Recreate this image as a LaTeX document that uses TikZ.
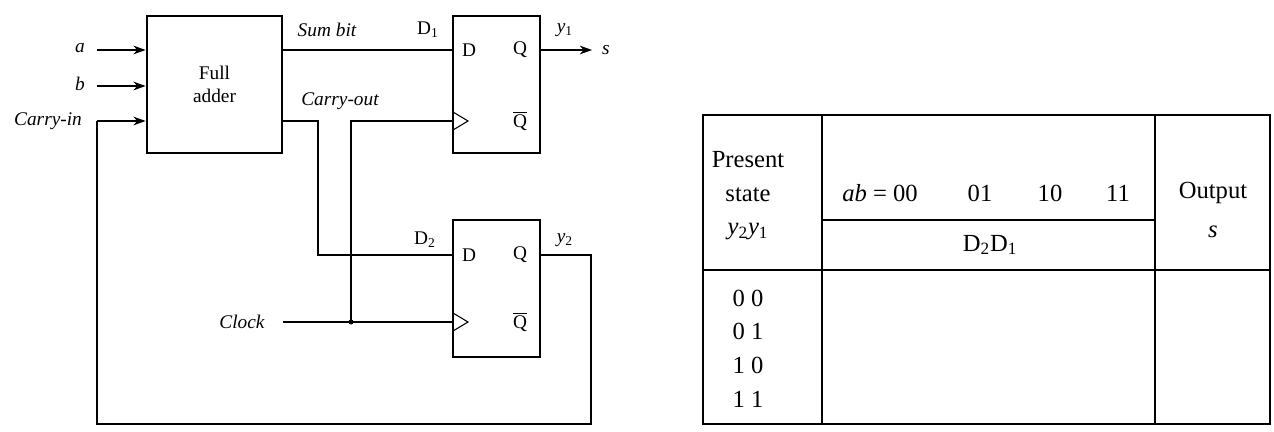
\documentclass[tikz,border=0pt]{standalone}
\usepackage{fontspec}
\setmainfont{Liberation Serif}
\usetikzlibrary{arrows.meta}
\begin{document}
\begin{tikzpicture}[x=0.02cm,y=-0.02cm,
  blk/.style={draw,line width=1.6pt,inner sep=0pt},
  wire/.style={draw,line width=0.6pt},
  arr/.style={wire,-{Stealth[length=7pt,width=5pt]}},
  lbl/.style={font=\fontsize{11}{13}\selectfont},
  il/.style={font=\itshape\fontsize{11}{13}\selectfont},
  tl/.style={font=\fontsize{14}{16}\selectfont}]
\useasboundingbox (0,0) rectangle (1274,432);
% full adder
\node[blk,minimum width=135*0.02cm,minimum height=137*0.02cm,align=center,lbl] (fa) at (214.5,84.5) {Full\\adder};
\node[blk,minimum width=87*0.02cm,minimum height=137*0.02cm] (ff1) at (496.5,84.5) {};
\node[blk,minimum width=87*0.02cm,minimum height=137*0.02cm] (ff2) at (496.5,288.5) {};
% FF labels
\node[lbl] at (469,50) {D}; \node[lbl] at (520,50) {Q}; \node[lbl] at (520,121) {$\overline{\mbox{Q}}$};
\node[lbl] at (469,255) {D}; \node[lbl] at (520,255) {Q}; \node[lbl] at (520,322) {$\overline{\mbox{Q}}$};
\draw[line width=0.6pt] (453,112) -- (468,121) -- (453,130);
\draw[line width=0.6pt] (453,313) -- (468,322) -- (453,331);
% inputs
\coordinate (ia) at (97,50); \coordinate (ib) at (97,86); \coordinate (ic) at (97,121);
\node[il] at (80,48) {a};
\node[il] at (80,84) {b};
\node[il] at (48,121) {Carry-in};
\draw[arr] (ia) -- (ia -| fa.west);
\draw[arr] (ib) -- (ib -| fa.west);
\draw[arr] (ic) -- (ic -| fa.west);
% sum bit
\coordinate (sb) at (282,50);
\draw[wire] (sb) -- (sb -| ff1.west);
\node[il] at (327,30) {Sum bit};
\node[lbl] at (428,30) {D\textsubscript{1}};
% output y1
\coordinate (q1) at (540,50); \coordinate (so) at (592,50);
\draw[arr] (q1) -- (so);
\node[lbl] at (565,30) {\textit{y}\textsubscript{1}};
\node[il] at (606,50) {s};
% carry out
\coordinate (co) at (282,121); \coordinate (c1) at (318,121); \coordinate (c2) at (318,255);
\draw[wire] (co) -- (c1) -- (c2) -- (c2 -| ff2.west);
\node[il] at (340,101) {Carry-out};
\node[lbl] at (425,240) {D\textsubscript{2}};
\node[lbl] at (565,240) {\textit{y}\textsubscript{2}};
% clock
\node[il] (clk) at (242,322) {Clock};
\coordinate (cj) at (351,322); \coordinate (ct) at (351,121);
\draw[wire] (283,322) -- (cj) -- (cj -| ff2.west);
\fill (cj) circle (2.5);
\draw[wire] (cj) -- (ct) -- (ct -| ff1.west);
% feedback
\coordinate (q2) at (540,255); \coordinate (f1) at (591,255); \coordinate (f2) at (591,424); \coordinate (f3) at (97,424);
\draw[wire] (q2) -- (f1) -- (f2) -- (f3) -- (ic);
% table
\draw[line width=0.6pt] (703,115) rectangle (1270,424);
\draw[line width=0.6pt] (822,115) -- (822,424) (1155,115) -- (1155,424) (703,270) -- (1270,270) (822,220) -- (1155,220);
\node[tl] at (748,160) {Present};
\node[tl] at (748,195) {state};
\node[tl] at (748,232) {\textit{y}\textsubscript{2}\textit{y}\textsubscript{1}};
\node[tl] at (880,193) {\textit{ab} = 00};
\node[tl] at (980,193) {01};
\node[tl] at (1050,193) {10};
\node[tl] at (1118,193) {11};
\node[tl] at (990,245) {D\textsubscript{2}D\textsubscript{1}};
\node[tl] at (1213,193) {Output};
\node[tl] at (1213,232) {\textit{s}};
\node[tl] at (748,298) {0 0};
\node[tl] at (748,331) {0 1};
\node[tl] at (748,365) {1 0};
\node[tl] at (748,399) {1 1};
\end{tikzpicture}
\end{document}
